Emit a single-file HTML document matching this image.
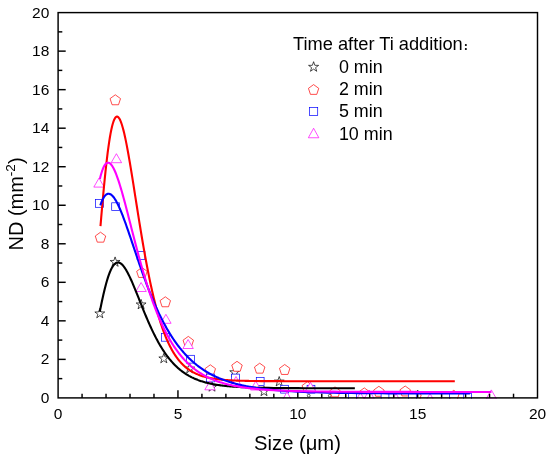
<!DOCTYPE html><html><head><meta charset="utf-8"><title>ND vs Size</title>
<style>html,body{margin:0;padding:0;background:#fff}svg{display:block}text{font-family:"Liberation Sans","Noto Sans CJK SC",sans-serif;fill:#000}</style></head><body>
<svg width="550" height="459" viewBox="0 0 550 459">
<rect width="550" height="459" fill="#fff"/>
<defs><clipPath id="pc"><rect x="58.10" y="12.60" width="479.40" height="386.05"/></clipPath></defs>
<g font-size="15.5px">
<text x="49.3" y="402.80" text-anchor="end">0</text>
<text x="49.3" y="364.27" text-anchor="end">2</text>
<text x="49.3" y="325.74" text-anchor="end">4</text>
<text x="49.3" y="287.21" text-anchor="end">6</text>
<text x="49.3" y="248.68" text-anchor="end">8</text>
<text x="49.3" y="210.15" text-anchor="end">10</text>
<text x="49.3" y="171.62" text-anchor="end">12</text>
<text x="49.3" y="133.09" text-anchor="end">14</text>
<text x="49.3" y="94.56" text-anchor="end">16</text>
<text x="49.3" y="56.03" text-anchor="end">18</text>
<text x="49.3" y="17.50" text-anchor="end">20</text>
<text x="58.10" y="419.1" text-anchor="middle">0</text>
<text x="177.95" y="419.1" text-anchor="middle">5</text>
<text x="297.80" y="419.1" text-anchor="middle">10</text>
<text x="417.65" y="419.1" text-anchor="middle">15</text>
<text x="537.50" y="419.1" text-anchor="middle">20</text>
</g>
<text x="297.5" y="449.7" font-size="20.2px" text-anchor="middle">Size (μm)</text>
<text transform="translate(23.2,204) rotate(-90)" font-size="20px" text-anchor="middle">ND (mm<tspan font-size="13.5px" dy="-8">-2</tspan><tspan dy="8">)</tspan></text>
<g clip-path="url(#pc)" fill="#fff" stroke-width="0.7" stroke-linejoin="miter">
<g stroke="#000"><polygon points="99.80,308.40 101.00,311.94 104.75,311.99 101.75,314.23 102.86,317.81 99.80,315.65 96.74,317.81 97.85,314.23 94.85,311.99 98.60,311.94"/><polygon points="115.10,256.90 116.30,260.44 120.05,260.49 117.05,262.73 118.16,266.31 115.10,264.15 112.04,266.31 113.15,262.73 110.15,260.49 113.90,260.44"/><polygon points="141.10,299.40 142.30,302.94 146.05,302.99 143.05,305.23 144.16,308.81 141.10,306.65 138.04,308.81 139.15,305.23 136.15,302.99 139.90,302.94"/><polygon points="163.80,353.40 165.00,356.94 168.75,356.99 165.75,359.23 166.86,362.81 163.80,360.65 160.74,362.81 161.85,359.23 158.85,356.99 162.60,356.94"/><polygon points="189.70,363.50 190.90,367.04 194.65,367.09 191.65,369.33 192.76,372.91 189.70,370.75 186.64,372.91 187.75,369.33 184.75,367.09 188.50,367.04"/><polygon points="212.00,381.80 213.20,385.34 216.95,385.39 213.95,387.63 215.06,391.21 212.00,389.05 208.94,391.21 210.05,387.63 207.05,385.39 210.80,385.34"/><polygon points="234.70,367.20 235.90,370.74 239.65,370.79 236.65,373.03 237.76,376.61 234.70,374.45 231.64,376.61 232.75,373.03 229.75,370.79 233.50,370.74"/><polygon points="264.00,386.30 265.20,389.84 268.95,389.89 265.95,392.13 267.06,395.71 264.00,393.55 260.94,395.71 262.05,392.13 259.05,389.89 262.80,389.84"/><polygon points="279.20,376.50 280.40,380.04 284.15,380.09 281.15,382.33 282.26,385.91 279.20,383.75 276.14,385.91 277.25,382.33 274.25,380.09 278.00,380.04"/></g>
<g stroke="#333" stroke-width="0.8"><circle cx="308.7" cy="395.7" r="1.4"/><circle cx="329.8" cy="395.7" r="1.4"/></g>
<g stroke="#f00"><polygon points="100.50,232.20 105.73,236.00 103.73,242.15 97.27,242.15 95.27,236.00"/><polygon points="115.30,94.80 120.53,98.60 118.53,104.75 112.07,104.75 110.07,98.60"/><polygon points="141.90,267.50 147.13,271.30 145.13,277.45 138.67,277.45 136.67,271.30"/><polygon points="165.30,296.80 170.53,300.60 168.53,306.75 162.07,306.75 160.07,300.60"/><polygon points="188.30,336.40 193.53,340.20 191.53,346.35 185.07,346.35 183.07,340.20"/><polygon points="210.30,364.80 215.53,368.60 213.53,374.75 207.07,374.75 205.07,368.60"/><polygon points="237.00,361.30 242.23,365.10 240.23,371.25 233.77,371.25 231.77,365.10"/><polygon points="259.70,363.20 264.93,367.00 262.93,373.15 256.47,373.15 254.47,367.00"/><polygon points="284.70,364.50 289.93,368.30 287.93,374.45 281.47,374.45 279.47,368.30"/><polygon points="307.30,381.70 312.53,385.50 310.53,391.65 304.07,391.65 302.07,385.50"/><polygon points="335.00,386.90 340.23,390.70 338.23,396.85 331.77,396.85 329.77,390.70"/><polygon points="364.30,387.90 369.53,391.70 367.53,397.85 361.07,397.85 359.07,391.70"/><polygon points="378.90,386.30 384.13,390.10 382.13,396.25 375.67,396.25 373.67,390.10"/><polygon points="405.20,386.00 410.43,389.80 408.43,395.95 401.97,395.95 399.97,389.80"/><polygon points="416.00,391.00 421.23,394.80 419.23,400.95 412.77,400.95 410.77,394.80"/><polygon points="453.80,390.30 459.03,394.10 457.03,400.25 450.57,400.25 448.57,394.10"/></g>
<g stroke="#00f"><rect x="95.60" y="199.50" width="7.8" height="7.8"/><rect x="111.70" y="202.80" width="7.8" height="7.8"/><rect x="137.10" y="251.60" width="7.8" height="7.8"/><rect x="161.40" y="333.40" width="7.8" height="7.8"/><rect x="186.60" y="355.30" width="7.8" height="7.8"/><rect x="206.60" y="374.10" width="7.8" height="7.8"/><rect x="231.60" y="374.10" width="7.8" height="7.8"/><rect x="256.30" y="377.60" width="7.8" height="7.8"/><rect x="280.70" y="385.30" width="7.8" height="7.8"/><rect x="307.10" y="385.30" width="7.8" height="7.8"/><rect x="348.60" y="392.60" width="7.8" height="7.8"/><rect x="381.10" y="393.60" width="7.8" height="7.8"/><rect x="408.50" y="393.10" width="7.8" height="7.8"/><rect x="441.70" y="393.30" width="7.8" height="7.8"/><rect x="463.70" y="393.40" width="7.8" height="7.8"/></g>
<g stroke="#f0f"><polygon points="99.00,178.10 104.20,187.10 93.80,187.10"/><polygon points="116.40,153.70 121.60,162.70 111.20,162.70"/><polygon points="141.10,282.50 146.30,291.50 135.90,291.50"/><polygon points="165.90,314.30 171.10,323.30 160.70,323.30"/><polygon points="188.10,339.50 193.30,348.50 182.90,348.50"/><polygon points="210.00,380.80 215.20,389.80 204.80,389.80"/><polygon points="236.00,376.50 241.20,385.50 230.80,385.50"/><polygon points="255.80,381.00 261.00,390.00 250.60,390.00"/><polygon points="287.00,392.00 292.20,401.00 281.80,401.00"/><polygon points="310.50,382.30 315.70,391.30 305.30,391.30"/><polygon points="360.40,392.50 365.60,401.50 355.20,401.50"/><polygon points="369.20,390.00 374.40,399.00 364.00,399.00"/><polygon points="396.00,393.50 401.20,402.50 390.80,402.50"/><polygon points="430.00,393.50 435.20,402.50 424.80,402.50"/><polygon points="491.30,389.90 496.50,398.90 486.10,398.90"/></g>
</g>
<g stroke="#000" stroke-width="1.45" fill="none" stroke-linecap="square">
<rect x="58.10" y="12.60" width="479.40" height="385.30"/>
</g>
<g stroke="#000" stroke-width="1.45" fill="none">
<line x1="82.07" y1="397.90" x2="82.07" y2="393.70"/>
<line x1="106.04" y1="397.90" x2="106.04" y2="393.70"/>
<line x1="130.01" y1="397.90" x2="130.01" y2="393.70"/>
<line x1="153.98" y1="397.90" x2="153.98" y2="393.70"/>
<line x1="177.95" y1="397.90" x2="177.95" y2="390.30"/>
<line x1="201.92" y1="397.90" x2="201.92" y2="393.70"/>
<line x1="225.89" y1="397.90" x2="225.89" y2="393.70"/>
<line x1="249.86" y1="397.90" x2="249.86" y2="393.70"/>
<line x1="273.83" y1="397.90" x2="273.83" y2="393.70"/>
<line x1="297.80" y1="397.90" x2="297.80" y2="390.30"/>
<line x1="321.77" y1="397.90" x2="321.77" y2="393.70"/>
<line x1="345.74" y1="397.90" x2="345.74" y2="393.70"/>
<line x1="369.71" y1="397.90" x2="369.71" y2="393.70"/>
<line x1="393.68" y1="397.90" x2="393.68" y2="393.70"/>
<line x1="417.65" y1="397.90" x2="417.65" y2="390.30"/>
<line x1="441.62" y1="397.90" x2="441.62" y2="393.70"/>
<line x1="465.59" y1="397.90" x2="465.59" y2="393.70"/>
<line x1="489.56" y1="397.90" x2="489.56" y2="393.70"/>
<line x1="513.53" y1="397.90" x2="513.53" y2="393.70"/>
<line x1="58.10" y1="378.63" x2="62.30" y2="378.63"/>
<line x1="58.10" y1="359.37" x2="65.70" y2="359.37"/>
<line x1="58.10" y1="340.10" x2="62.30" y2="340.10"/>
<line x1="58.10" y1="320.84" x2="65.70" y2="320.84"/>
<line x1="58.10" y1="301.57" x2="62.30" y2="301.57"/>
<line x1="58.10" y1="282.31" x2="65.70" y2="282.31"/>
<line x1="58.10" y1="263.04" x2="62.30" y2="263.04"/>
<line x1="58.10" y1="243.78" x2="65.70" y2="243.78"/>
<line x1="58.10" y1="224.51" x2="62.30" y2="224.51"/>
<line x1="58.10" y1="205.25" x2="65.70" y2="205.25"/>
<line x1="58.10" y1="185.98" x2="62.30" y2="185.98"/>
<line x1="58.10" y1="166.72" x2="65.70" y2="166.72"/>
<line x1="58.10" y1="147.45" x2="62.30" y2="147.45"/>
<line x1="58.10" y1="128.19" x2="65.70" y2="128.19"/>
<line x1="58.10" y1="108.92" x2="62.30" y2="108.92"/>
<line x1="58.10" y1="89.66" x2="65.70" y2="89.66"/>
<line x1="58.10" y1="70.39" x2="62.30" y2="70.39"/>
<line x1="58.10" y1="51.13" x2="65.70" y2="51.13"/>
<line x1="58.10" y1="31.86" x2="62.30" y2="31.86"/>
</g>
<g fill="none" stroke-width="2.1" stroke-linejoin="round" stroke-linecap="butt">
<path d="M99.76 311.80 L100.48 308.21 L101.20 304.70 L101.92 301.27 L102.64 297.95 L103.36 294.74 L104.07 291.66 L104.79 288.70 L105.51 285.89 L106.23 283.22 L106.95 280.71 L107.67 278.35 L108.39 276.15 L109.11 274.11 L109.83 272.25 L110.55 270.55 L111.27 269.01 L111.98 267.64 L112.70 266.44 L113.42 265.41 L114.14 264.53 L114.86 263.82 L115.58 263.26 L116.30 262.85 L117.02 262.59 L117.74 262.48 L118.46 262.50 L119.18 262.66 L119.89 262.95 L120.61 263.36 L121.33 263.89 L122.05 264.53 L122.77 265.27 L123.49 266.12 L124.21 267.07 L124.93 268.10 L125.65 269.22 L126.37 270.41 L127.09 271.68 L127.80 273.02 L128.52 274.42 L129.24 275.88 L129.96 277.38 L130.68 278.94 L131.40 280.54 L132.12 282.18 L132.84 283.85 L133.56 285.55 L134.28 287.28 L135.00 289.03 L135.71 290.79 L136.43 292.58 L137.15 294.37 L137.87 296.17 L138.59 297.98 L139.31 299.78 L140.03 301.59 L140.75 303.40 L141.47 305.20 L142.19 306.99 L142.91 308.77 L143.62 310.54 L144.34 312.30 L145.06 314.04 L145.78 315.77 L146.50 317.47 L147.22 319.16 L147.94 320.83 L148.66 322.48 L149.38 324.11 L150.10 325.71 L150.82 327.29 L151.54 328.84 L152.25 330.37 L152.97 331.87 L153.69 333.35 L154.41 334.80 L155.13 336.22 L155.85 337.62 L156.57 338.98 L157.29 340.33 L158.01 341.64 L158.73 342.93 L159.45 344.19 L160.16 345.42 L160.88 346.62 L161.60 347.80 L162.32 348.95 L163.04 350.08 L163.76 351.18 L164.48 352.25 L165.20 353.30 L165.92 354.32 L166.64 355.31 L167.36 356.28 L168.07 357.23 L168.79 358.15 L169.51 359.05 L170.23 359.92 L170.95 360.77 L171.67 361.60 L172.39 362.41 L173.11 363.20 L173.83 363.96 L174.55 364.70 L175.27 365.42 L175.98 366.13 L176.70 366.81 L177.42 367.47 L178.14 368.12 L178.86 368.74 L179.58 369.35 L180.30 369.94 L181.02 370.51 L181.74 371.07 L182.46 371.61 L183.18 372.14 L183.89 372.64 L184.61 373.14 L185.33 373.62 L186.05 374.08 L186.77 374.53 L187.49 374.97 L188.21 375.39 L188.93 375.81 L189.65 376.20 L190.37 376.59 L191.09 376.96 L191.80 377.33 L192.52 377.68 L193.24 378.02 L193.96 378.35 L194.68 378.67 L195.40 378.98 L196.12 379.28 L196.84 379.57 L197.56 379.85 L198.28 380.13 L199.00 380.39 L199.71 380.64 L200.43 380.89 L201.15 381.13 L201.87 381.36 L202.59 381.59 L203.31 381.81 L204.03 382.02 L204.75 382.22 L205.47 382.42 L206.19 382.61 L206.91 382.79 L207.62 382.97 L208.34 383.14 L209.06 383.31 L209.78 383.47 L210.50 383.63 L211.22 383.78 L211.94 383.93 L212.66 384.07 L213.38 384.21 L214.10 384.34 L214.82 384.47 L215.53 384.59 L216.25 384.71 L216.97 384.83 L217.69 384.94 L218.41 385.05 L219.13 385.16 L219.85 385.26 L220.57 385.36 L221.29 385.45 L222.01 385.54 L222.73 385.63 L223.45 385.72 L224.16 385.80 L224.88 385.88 L225.60 385.96 L226.32 386.03 L227.04 386.11 L227.76 386.18 L228.48 386.24 L229.20 386.31 L229.92 386.37 L230.64 386.44 L231.36 386.49 L232.07 386.55 L232.79 386.61 L233.51 386.66 L234.23 386.71 L234.95 386.76 L235.67 386.81 L236.39 386.86 L237.11 386.90 L237.83 386.95 L238.55 386.99 L239.27 387.03 L239.98 387.07 L240.70 387.11 L241.42 387.15 L242.14 387.18 L242.86 387.22 L243.58 387.25 L244.30 387.28 L245.02 387.31 L245.74 387.35 L246.46 387.37 L247.18 387.40 L247.89 387.43 L248.61 387.46 L249.33 387.48 L249.86 387.50 L255.85 387.68 L261.85 387.81 L267.84 387.92 L273.83 387.99 L279.82 388.05 L285.81 388.10 L291.81 388.13 L297.80 388.16 L303.79 388.18 L309.79 388.19 L315.78 388.20 L321.77 388.21 L327.76 388.22 L333.75 388.23 L339.75 388.23 L345.74 388.23 L351.73 388.24 L354.85 388.24" stroke="#000"/>
<path d="M100.48 226.09 L101.20 217.62 L101.91 209.31 L102.63 201.19 L103.35 193.32 L104.07 185.71 L104.79 178.40 L105.51 171.42 L106.23 164.80 L106.95 158.57 L107.67 152.73 L108.39 147.30 L109.11 142.31 L109.82 137.76 L110.54 133.65 L111.26 129.99 L111.98 126.78 L112.70 124.02 L113.42 121.71 L114.14 119.84 L114.86 118.41 L115.58 117.40 L116.30 116.80 L117.02 116.61 L117.73 116.80 L118.45 117.37 L119.17 118.29 L119.89 119.56 L120.61 121.14 L121.33 123.04 L122.05 125.22 L122.77 127.68 L123.49 130.39 L124.21 133.34 L124.93 136.50 L125.65 139.86 L126.36 143.41 L127.08 147.12 L127.80 150.98 L128.52 154.97 L129.24 159.09 L129.96 163.30 L130.68 167.61 L131.40 171.99 L132.12 176.43 L132.84 180.92 L133.56 185.45 L134.27 190.00 L134.99 194.57 L135.71 199.15 L136.43 203.72 L137.15 208.28 L137.87 212.82 L138.59 217.33 L139.31 221.81 L140.03 226.24 L140.75 230.63 L141.47 234.97 L142.18 239.25 L142.90 243.47 L143.62 247.62 L144.34 251.71 L145.06 255.72 L145.78 259.66 L146.50 263.52 L147.22 267.30 L147.94 271.01 L148.66 274.63 L149.38 278.17 L150.09 281.62 L150.81 284.99 L151.53 288.28 L152.25 291.49 L152.97 294.60 L153.69 297.64 L154.41 300.59 L155.13 303.46 L155.85 306.25 L156.57 308.96 L157.29 311.59 L158.00 314.13 L158.72 316.60 L159.44 319.00 L160.16 321.32 L160.88 323.56 L161.60 325.74 L162.32 327.84 L163.04 329.87 L163.76 331.84 L164.48 333.73 L165.20 335.57 L165.91 337.34 L166.63 339.05 L167.35 340.70 L168.07 342.29 L168.79 343.83 L169.51 345.31 L170.23 346.73 L170.95 348.11 L171.67 349.43 L172.39 350.71 L173.11 351.94 L173.82 353.12 L174.54 354.26 L175.26 355.35 L175.98 356.40 L176.70 357.42 L177.42 358.39 L178.14 359.33 L178.86 360.23 L179.58 361.09 L180.30 361.93 L181.02 362.72 L181.73 363.49 L182.45 364.23 L183.17 364.94 L183.89 365.62 L184.61 366.27 L185.33 366.89 L186.05 367.49 L186.77 368.07 L187.49 368.62 L188.21 369.15 L188.93 369.66 L189.64 370.15 L190.36 370.62 L191.08 371.07 L191.80 371.50 L192.52 371.91 L193.24 372.31 L193.96 372.69 L194.68 373.05 L195.40 373.40 L196.12 373.73 L196.84 374.05 L197.56 374.36 L198.27 374.65 L198.99 374.93 L199.71 375.20 L200.43 375.46 L201.15 375.71 L201.87 375.94 L202.59 376.17 L203.31 376.39 L204.03 376.60 L204.75 376.79 L205.47 376.98 L206.18 377.17 L206.90 377.34 L207.62 377.51 L208.34 377.67 L209.06 377.82 L209.78 377.97 L210.50 378.11 L211.22 378.24 L211.94 378.37 L212.66 378.49 L213.38 378.61 L214.09 378.72 L214.81 378.83 L215.53 378.93 L216.25 379.03 L216.97 379.13 L217.69 379.22 L218.41 379.30 L219.13 379.39 L219.85 379.47 L220.57 379.54 L221.29 379.61 L222.00 379.68 L222.72 379.75 L223.44 379.81 L224.16 379.87 L224.88 379.93 L225.60 379.99 L226.32 380.04 L227.04 380.09 L227.76 380.14 L228.48 380.19 L229.20 380.23 L229.91 380.27 L230.63 380.31 L231.35 380.35 L232.07 380.39 L232.79 380.43 L233.51 380.46 L234.23 380.49 L234.95 380.52 L235.67 380.55 L236.39 380.58 L237.11 380.61 L237.82 380.63 L238.54 380.66 L239.26 380.68 L239.98 380.71 L240.70 380.73 L241.42 380.75 L242.14 380.77 L242.86 380.79 L243.58 380.81 L244.30 380.82 L245.02 380.84 L245.73 380.86 L246.45 380.87 L247.17 380.89 L247.89 380.90 L248.61 380.91 L249.33 380.93 L249.86 380.94 L255.85 381.02 L261.85 381.08 L267.84 381.12 L273.83 381.15 L279.82 381.17 L285.81 381.18 L291.81 381.19 L297.80 381.20 L303.79 381.20 L309.79 381.21 L315.78 381.21 L321.77 381.21 L327.76 381.21 L333.75 381.21 L339.75 381.21 L345.74 381.22 L351.73 381.22 L357.73 381.22 L363.72 381.22 L369.71 381.22 L375.70 381.22 L381.69 381.22 L387.69 381.22 L393.68 381.22 L399.67 381.22 L405.67 381.22 L411.66 381.22 L417.65 381.22 L423.64 381.22 L429.63 381.22 L435.63 381.22 L441.62 381.22 L447.61 381.22 L453.61 381.22 L454.80 381.22" stroke="#f00"/>
<path d="M100.32 205.40 L101.04 203.34 L101.76 201.50 L102.48 199.86 L103.20 198.44 L103.92 197.21 L104.64 196.18 L105.36 195.34 L106.08 194.69 L106.80 194.20 L107.51 193.89 L108.23 193.75 L108.95 193.76 L109.67 193.92 L110.39 194.23 L111.11 194.67 L111.83 195.25 L112.55 195.95 L113.27 196.76 L113.99 197.69 L114.71 198.73 L115.42 199.86 L116.14 201.09 L116.86 202.41 L117.58 203.81 L118.30 205.29 L119.02 206.83 L119.74 208.45 L120.46 210.13 L121.18 211.86 L121.90 213.65 L122.62 215.49 L123.33 217.37 L124.05 219.29 L124.77 221.24 L125.49 223.23 L126.21 225.25 L126.93 227.29 L127.65 229.36 L128.37 231.44 L129.09 233.54 L129.81 235.66 L130.53 237.78 L131.24 239.91 L131.96 242.05 L132.68 244.19 L133.40 246.34 L134.12 248.48 L134.84 250.62 L135.56 252.76 L136.28 254.89 L137.00 257.01 L137.72 259.12 L138.44 261.23 L139.15 263.32 L139.87 265.40 L140.59 267.46 L141.31 269.51 L142.03 271.55 L142.75 273.56 L143.47 275.56 L144.19 277.54 L144.91 279.50 L145.63 281.45 L146.35 283.37 L147.06 285.27 L147.78 287.15 L148.50 289.01 L149.22 290.84 L149.94 292.65 L150.66 294.44 L151.38 296.21 L152.10 297.96 L152.82 299.68 L153.54 301.37 L154.26 303.05 L154.97 304.70 L155.69 306.32 L156.41 307.93 L157.13 309.50 L157.85 311.06 L158.57 312.59 L159.29 314.10 L160.01 315.58 L160.73 317.04 L161.45 318.48 L162.17 319.90 L162.88 321.29 L163.60 322.66 L164.32 324.00 L165.04 325.32 L165.76 326.63 L166.48 327.90 L167.20 329.16 L167.92 330.40 L168.64 331.61 L169.36 332.80 L170.08 333.98 L170.79 335.13 L171.51 336.26 L172.23 337.37 L172.95 338.46 L173.67 339.53 L174.39 340.58 L175.11 341.61 L175.83 342.62 L176.55 343.62 L177.27 344.59 L177.99 345.55 L178.71 346.49 L179.42 347.41 L180.14 348.32 L180.86 349.21 L181.58 350.08 L182.30 350.93 L183.02 351.77 L183.74 352.59 L184.46 353.40 L185.18 354.19 L185.90 354.97 L186.62 355.73 L187.33 356.47 L188.05 357.21 L188.77 357.92 L189.49 358.63 L190.21 359.32 L190.93 359.99 L191.65 360.66 L192.37 361.31 L193.09 361.94 L193.81 362.57 L194.53 363.18 L195.24 363.78 L195.96 364.37 L196.68 364.95 L197.40 365.51 L198.12 366.07 L198.84 366.61 L199.56 367.14 L200.28 367.67 L201.00 368.18 L201.72 368.68 L202.44 369.17 L203.15 369.65 L203.87 370.12 L204.59 370.59 L205.31 371.04 L206.03 371.48 L206.75 371.92 L207.47 372.35 L208.19 372.76 L208.91 373.17 L209.63 373.57 L210.35 373.97 L211.06 374.35 L211.78 374.73 L212.50 375.10 L213.22 375.46 L213.94 375.82 L214.66 376.17 L215.38 376.51 L216.10 376.84 L216.82 377.17 L217.54 377.49 L218.26 377.80 L218.97 378.11 L219.69 378.41 L220.41 378.71 L221.13 379.00 L221.85 379.28 L222.57 379.56 L223.29 379.84 L224.01 380.10 L224.73 380.37 L225.45 380.62 L226.17 380.87 L226.88 381.12 L227.60 381.36 L228.32 381.60 L229.04 381.83 L229.76 382.06 L230.48 382.28 L231.20 382.50 L231.92 382.71 L232.64 382.92 L233.36 383.13 L234.08 383.33 L234.79 383.52 L235.51 383.72 L236.23 383.91 L236.95 384.09 L237.67 384.27 L238.39 384.45 L239.11 384.63 L239.83 384.80 L240.55 384.97 L241.27 385.13 L241.99 385.29 L242.70 385.45 L243.42 385.60 L244.14 385.76 L244.86 385.90 L245.58 386.05 L246.30 386.19 L247.02 386.33 L247.74 386.47 L248.46 386.60 L249.18 386.74 L249.86 386.86 L255.85 387.84 L261.85 388.67 L267.84 389.38 L273.83 389.98 L279.82 390.49 L285.81 390.93 L291.81 391.30 L297.80 391.61 L303.79 391.88 L309.79 392.11 L315.78 392.31 L321.77 392.48 L327.76 392.63 L333.75 392.75 L339.75 392.86 L345.74 392.95 L351.73 393.03 L357.73 393.10 L363.72 393.16 L369.71 393.21 L375.70 393.26 L381.69 393.30 L387.69 393.33 L393.68 393.36 L399.67 393.39 L405.67 393.41 L411.66 393.43 L417.65 393.45 L423.64 393.46 L429.63 393.48 L435.63 393.49 L441.62 393.50 L447.61 393.51 L453.61 393.52 L459.60 393.52 L465.59 393.53 L469.90 393.53" stroke="#00f"/>
<path d="M99.87 178.90 L100.59 176.04 L101.31 173.48 L102.03 171.21 L102.74 169.23 L103.46 167.52 L104.18 166.09 L104.90 164.91 L105.62 164.00 L106.34 163.33 L107.06 162.90 L107.78 162.70 L108.50 162.72 L109.22 162.95 L109.94 163.39 L110.65 164.01 L111.37 164.82 L112.09 165.80 L112.81 166.95 L113.53 168.25 L114.25 169.70 L114.97 171.28 L115.69 172.99 L116.41 174.82 L117.13 176.76 L117.85 178.81 L118.56 180.95 L119.28 183.17 L120.00 185.48 L120.72 187.86 L121.44 190.31 L122.16 192.82 L122.88 195.38 L123.60 197.99 L124.32 200.64 L125.04 203.33 L125.76 206.05 L126.47 208.80 L127.19 211.56 L127.91 214.35 L128.63 217.15 L129.35 219.96 L130.07 222.77 L130.79 225.59 L131.51 228.41 L132.23 231.22 L132.95 234.02 L133.67 236.82 L134.38 239.60 L135.10 242.36 L135.82 245.11 L136.54 247.84 L137.26 250.55 L137.98 253.24 L138.70 255.90 L139.42 258.54 L140.14 261.15 L140.86 263.73 L141.58 266.28 L142.29 268.80 L143.01 271.29 L143.73 273.75 L144.45 276.18 L145.17 278.57 L145.89 280.92 L146.61 283.25 L147.33 285.54 L148.05 287.79 L148.77 290.01 L149.49 292.19 L150.20 294.33 L150.92 296.44 L151.64 298.52 L152.36 300.56 L153.08 302.56 L153.80 304.53 L154.52 306.46 L155.24 308.35 L155.96 310.21 L156.68 312.04 L157.40 313.83 L158.11 315.59 L158.83 317.31 L159.55 319.00 L160.27 320.66 L160.99 322.28 L161.71 323.87 L162.43 325.43 L163.15 326.95 L163.87 328.44 L164.59 329.91 L165.31 331.34 L166.02 332.74 L166.74 334.11 L167.46 335.46 L168.18 336.77 L168.90 338.06 L169.62 339.32 L170.34 340.55 L171.06 341.75 L171.78 342.93 L172.50 344.08 L173.22 345.20 L173.94 346.30 L174.65 347.38 L175.37 348.43 L176.09 349.46 L176.81 350.46 L177.53 351.45 L178.25 352.40 L178.97 353.34 L179.69 354.26 L180.41 355.15 L181.13 356.03 L181.85 356.88 L182.56 357.71 L183.28 358.53 L184.00 359.33 L184.72 360.10 L185.44 360.86 L186.16 361.60 L186.88 362.33 L187.60 363.03 L188.32 363.72 L189.04 364.40 L189.76 365.05 L190.47 365.70 L191.19 366.32 L191.91 366.94 L192.63 367.53 L193.35 368.12 L194.07 368.69 L194.79 369.24 L195.51 369.78 L196.23 370.31 L196.95 370.83 L197.67 371.34 L198.38 371.83 L199.10 372.31 L199.82 372.78 L200.54 373.23 L201.26 373.68 L201.98 374.12 L202.70 374.54 L203.42 374.96 L204.14 375.36 L204.86 375.76 L205.58 376.14 L206.29 376.52 L207.01 376.89 L207.73 377.25 L208.45 377.60 L209.17 377.94 L209.89 378.27 L210.61 378.59 L211.33 378.91 L212.05 379.22 L212.77 379.52 L213.49 379.82 L214.20 380.10 L214.92 380.39 L215.64 380.66 L216.36 380.93 L217.08 381.19 L217.80 381.44 L218.52 381.69 L219.24 381.93 L219.96 382.17 L220.68 382.40 L221.40 382.62 L222.11 382.84 L222.83 383.06 L223.55 383.27 L224.27 383.47 L224.99 383.67 L225.71 383.86 L226.43 384.05 L227.15 384.24 L227.87 384.42 L228.59 384.59 L229.31 384.77 L230.02 384.93 L230.74 385.10 L231.46 385.26 L232.18 385.41 L232.90 385.57 L233.62 385.71 L234.34 385.86 L235.06 386.00 L235.78 386.14 L236.50 386.27 L237.22 386.40 L237.93 386.53 L238.65 386.66 L239.37 386.78 L240.09 386.90 L240.81 387.02 L241.53 387.13 L242.25 387.24 L242.97 387.35 L243.69 387.46 L244.41 387.56 L245.13 387.66 L245.85 387.76 L246.56 387.85 L247.28 387.95 L248.00 388.04 L248.72 388.13 L249.44 388.22 L249.86 388.27 L255.85 388.91 L261.85 389.43 L267.84 389.87 L273.83 390.22 L279.82 390.51 L285.81 390.76 L291.81 390.95 L297.80 391.12 L303.79 391.26 L309.79 391.37 L315.78 391.46 L321.77 391.54 L327.76 391.61 L333.75 391.66 L339.75 391.71 L345.74 391.75 L351.73 391.78 L357.73 391.81 L363.72 391.83 L369.71 391.85 L375.70 391.86 L381.69 391.88 L387.69 391.89 L393.68 391.90 L399.67 391.91 L405.67 391.91 L411.66 391.92 L417.65 391.93 L423.64 391.93 L429.63 391.93 L435.63 391.94 L441.62 391.94 L447.61 391.94 L453.61 391.94 L459.60 391.95 L465.59 391.95 L471.58 391.95 L477.57 391.95 L483.57 391.95 L489.56 391.95 L491.48 391.95" stroke="#f0f"/>
</g>
<text x="293.0" y="49.8" font-size="18.25px">Time after Ti addition<tspan font-family="Noto Serif CJK SC,serif" font-weight="900" font-size="10px" dx="0.2" dy="0.2">：</tspan></text>
<g font-size="17.9px">
<text x="338.9" y="72.70">0 min</text>
<text x="338.9" y="95.05">2 min</text>
<text x="338.9" y="117.40">5 min</text>
<text x="338.9" y="139.75">10 min</text>
</g>
<g fill="#fff" stroke-width="0.7">
<polygon points="313.60,61.70 314.83,65.30 318.64,65.36 315.60,67.65 316.72,71.29 313.60,69.10 310.48,71.29 311.60,67.65 308.56,65.36 312.37,65.30" stroke="#000"/>
<polygon points="313.60,84.60 318.74,88.33 316.77,94.37 310.43,94.37 308.46,88.33" stroke="#f00"/>
<rect x="309.5" y="107.4" width="8.2" height="8.2" stroke="#00f"/>
<polygon points="313.60,128.25 318.85,137.75 308.35,137.75" stroke="#f0f"/>
</g>
</svg></body></html>
